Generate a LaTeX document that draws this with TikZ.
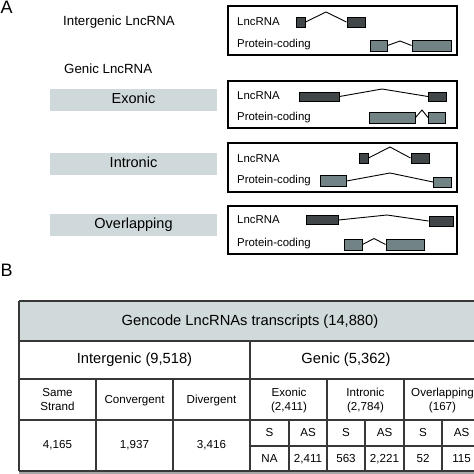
\documentclass[tikz,border=0pt]{standalone}
\usepackage{fontspec}
\setmainfont{Liberation Sans}
\definecolor{lncgray}{HTML}{414648}
\definecolor{pcgray}{HTML}{728385}
\definecolor{bandgray}{HTML}{CFD8DA}
\definecolor{headgray}{HTML}{D1DADB}
\definecolor{rulegray}{HTML}{383838}
\begin{document}
\begin{tikzpicture}[x=1pt,y=-1pt,
  lbl/.style={anchor=west,inner sep=0pt,text height=0.716em,text depth=0pt,font=\fontsize{11.4}{13}\selectfont},
  heading/.style={anchor=west,inner sep=0pt,text height=0.716em,text depth=0pt,font=\fontsize{13.3}{15}\selectfont},
  panelletter/.style={anchor=west,inner sep=0pt,text height=0.716em,text depth=0pt,font=\fontsize{18}{20}\selectfont},
  band/.style={fill=bandgray,minimum width=167pt,minimum height=22pt,inner sep=0pt,text height=0.716em,text depth=0pt,font=\fontsize{14.5}{16}\selectfont},
  panel/.style={draw=black,line width=1.1pt,inner sep=0pt},
  lexon/.style={draw=black,fill=lncgray,line width=1pt,inner sep=0pt},
  pexon/.style={draw=black,fill=pcgray,line width=1pt,inner sep=0pt},
  intron/.style={draw=black,line width=0.9pt},
  cellbig/.style={inner sep=0pt,text height=0.716em,text depth=0pt,font=\fontsize{14.7}{17}\selectfont},
  cell/.style={inner sep=0pt,text height=0.716em,text depth=0pt,font=\fontsize{11.6}{13}\selectfont},
  cell2/.style={inner sep=0pt,align=center,font=\fontsize{11.6}{14}\selectfont},
  rule/.style={draw=rulegray,line width=1.3pt}
]
\useasboundingbox (0,0) rectangle (474,474);
\clip (0,0) rectangle (474,474);

% ---------- Panel A ----------
\node[panelletter] (A) at (0.5,9.5) {A};
\node[heading] (hInter) at (63,22) {Intergenic LncRNA};
\node[heading] (hGenic) at (64,70) {Genic LncRNA};
\node[band] (bExonic) at (133.5,100) {Exonic};
\node[band] (bIntronic) at (133.5,164) {Intronic};
\node[band] (bOverl) at (133.5,225) {Overlapping};

% Box 1: intergenic
\node[panel,minimum width=229pt,minimum height=49pt] (box1) at (342.5,30.5) {};
\node[lbl] (l1) at (237,22) {LncRNA};
\node[lbl] (p1) at (237,44) {Protein-coding};
\node[lexon,minimum width=9pt,minimum height=10pt] (l1a) at (300.5,22) {};
\node[lexon,minimum width=18pt,minimum height=10pt] (l1b) at (356,22) {};
\coordinate (l1k) at (326,12);
\draw[intron] (l1a.east) -- (l1k) -- (l1b.west);
\node[pexon,minimum width=17pt,minimum height=11pt] (p1a) at (378.5,45.5) {};
\node[pexon,minimum width=39pt,minimum height=11pt] (p1b) at (431.5,45.5) {};
\coordinate (p1k) at (400,41);
\draw[intron] (p1a.east) -- (p1k) -- (p1b.west);

% Box 2: exonic
\node[panel,minimum width=229pt,minimum height=47pt] (box2) at (342.5,104.5) {};
\node[lbl] (l2) at (237,96) {LncRNA};
\node[lbl] (p2) at (237,117) {Protein-coding};
\node[lexon,minimum width=40pt,minimum height=9pt] (l2a) at (319,96.5) {};
\node[lexon,minimum width=18pt,minimum height=9pt] (l2b) at (437.5,96.5) {};
\coordinate (l2k) at (382,89);
\draw[intron] (l2a.east) -- (l2k) -- (l2b.west);
\node[pexon,minimum width=46pt,minimum height=11pt] (p2a) at (392,117.5) {};
\node[pexon,minimum width=17pt,minimum height=11pt] (p2b) at (437,117.5) {};
\coordinate (p2k) at (422,110);
\draw[intron] (p2a.east) -- (p2k) -- (p2b.west);

% Box 3: intronic
\node[panel,minimum width=229pt,minimum height=49pt] (box3) at (342.5,167.5) {};
\node[lbl] (l3) at (237,159) {LncRNA};
\node[lbl] (p3) at (237,180) {Protein-coding};
\node[lexon,minimum width=9pt,minimum height=10pt] (l3a) at (363.5,158) {};
\node[lexon,minimum width=18pt,minimum height=10pt] (l3b) at (420,158) {};
\coordinate (l3k) at (390,147);
\draw[intron] (l3a.east) -- (l3k) -- (l3b.west);
\node[pexon,minimum width=26pt,minimum height=11pt] (p3a) at (333,181) {};
\node[pexon,minimum width=18pt,minimum height=10pt] (p3b) at (442.5,182) {};
\coordinate (p3k) at (390,173);
\draw[intron] (p3a.east) -- (p3k) -- (p3b.west);

% Box 4: overlapping
\node[panel,minimum width=229pt,minimum height=48pt] (box4) at (342.5,230) {};
\node[lbl] (l4) at (237,220) {LncRNA};
\node[lbl] (p4) at (237,243) {Protein-coding};
\node[lexon,minimum width=32pt,minimum height=9pt] (l4a) at (322,220) {};
\node[lexon,minimum width=24pt,minimum height=10pt] (l4b) at (441,221) {};
\coordinate (l4k) at (387,215);
\draw[intron] (l4a.east) -- (l4k) -- (l4b.west);
\node[pexon,minimum width=18pt,minimum height=11pt] (p4a) at (353,244.5) {};
\node[pexon,minimum width=38pt,minimum height=11pt] (p4b) at (405,244.5) {};
\coordinate (p4k) at (374,238.5);
\draw[intron] (p4a.east) -- (p4k) -- (p4b.west);

% ---------- Panel B ----------
\node[panelletter] (B) at (0.5,272.5) {B};

% table fills
\fill[headgray] (19,301) rectangle (482,341);
\fill[gray!70] (19,471) rectangle (482,480);

% table rules
\draw[rule] (19,301) -- (482,301);
\draw[rule] (19,341) -- (482,341);
\draw[rule] (19,379) -- (482,379);
\draw[rule] (19,420) -- (482,420);
\draw[rule] (250,446) -- (482,446);
\draw[rule] (19,471) -- (482,471);
\draw[rule] (19,301) -- (19,471);
\draw[rule] (250,341) -- (250,471);
\foreach \xx in {96,173,327,404} {\draw[rule] (\xx,379) -- (\xx,471);}
\foreach \xx in {289,365,442} {\draw[rule] (\xx,420) -- (\xx,471);}

% table text
\node[cellbig] (tHead) at (250,322) {Gencode LncRNAs transcripts (14,880)};
\node[cellbig] (tInter) at (134.5,360) {Intergenic (9,518)};
\node[cellbig] (tGenic) at (346,360) {Genic (5,362)};

\node[cell2] (tSame) at (57.5,400) {Same\\Strand};
\node[cell] (tConv) at (134.5,400) {Convergent};
\node[cell] (tDiv) at (211.5,400) {Divergent};
\node[cell2] (tExo) at (289,400) {Exonic\\(2,411)};
\node[cell2] (tIntr) at (365.5,400) {Intronic\\(2,784)};
\node[cell2] (tOvl) at (442.5,400) {Overlapping\\(167)};

\node[cell] (vSame) at (57.5,445) {4,165};
\node[cell] (vConv) at (134.5,445) {1,937};
\node[cell] (vDiv) at (211.5,445) {3,416};

\node[cell] (s1) at (269.5,433) {S};
\node[cell] (a1) at (308,433) {AS};
\node[cell] (s2) at (346,433) {S};
\node[cell] (a2) at (384.5,433) {AS};
\node[cell] (s3) at (423,433) {S};
\node[cell] (a3) at (461.5,433) {AS};

\node[cell] (n1) at (269.5,459) {NA};
\node[cell] (n2) at (308,459) {2,411};
\node[cell] (n3) at (346,459) {563};
\node[cell] (n4) at (384.5,459) {2,221};
\node[cell] (n5) at (423,459) {52};
\node[cell] (n6) at (461.5,459) {115};
\end{tikzpicture}
\end{document}
